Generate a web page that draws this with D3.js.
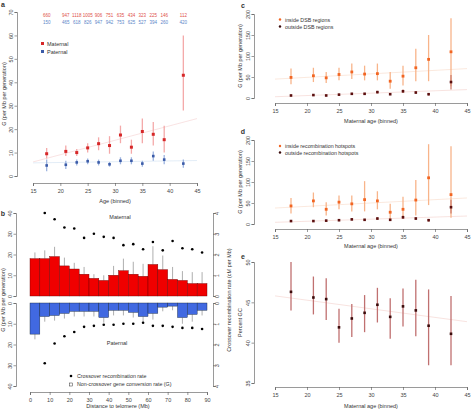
<!DOCTYPE html><html><head><meta charset="utf-8">
<script src="https://d3js.org/d3.v7.min.js"></script>
<style>body{margin:0;background:#fff}text{font-family:"Liberation Sans",Arial,sans-serif}</style></head><body>
<svg id="s" width="474" height="413"></svg>
<script>
const ages=[17.5,21,23,25,27,29,31,33,35,37,39,42.5];
const matG=[9.5,10.5,10,12,13.8,13,17.5,12.3,19,17.8,15.5,43];
const matLo=[7.5,8.5,8.5,10,11,9.5,14,9.5,14,13,10,28];
const matHi=[12,13,11.5,14,16.5,17,21.5,15.5,24.5,23,21.5,60];
const patG=[4.5,4.8,5.8,6.3,5.8,5,6.5,6.5,5.3,8.5,7,5.3];
const patLo=[2,3,4.5,5,4.5,4,5,5,4,6.5,5,3.5];
const patHi=[7,6.5,7,7.5,7,6,8,8,6.5,10.5,9,7];
const matN=[660,947,1118,1005,906,751,635,434,323,225,146,112];
const patN=[150,465,618,826,947,942,753,625,527,394,260,420];
const telBins=d3.range(0,90,5);
const telMat=[18,18,19,14.5,13,10.5,8.5,7.5,10,12.2,10.5,9.5,15.2,12.7,8,7.5,6,6];
const telMatHi=[21,22,23.7,18.5,16,14,10.5,10,14.5,18,16.5,15.5,24,19.5,14,12,11.5,11.5];
const telPat=[15,6.5,6,5,4,4,4,7,3.5,3.5,4.5,6.5,5,2,1.5,7,5.5,3.5];
const telPatHi=[17.5,9,8.5,7.5,6.5,6.5,6.5,9.5,6,6,7,9.5,8,4,3.5,10,9,6];
const coMat=[null,4.0,3.7,3.3,3.25,2.8,3.0,2.85,2.8,2.45,2.5,2.25,2.6,2.2,2.65,2.3,2.25,2.1];
const coPat=[null,2.9,1.95,1.6,1.4,1.15,1.1,1.05,1.05,1.0,1.0,0.95,1.1,1.1,1.15,1.2,1.2,1.25];
const dsbIn=[49,53,48,56,62,57,58,40,52,72,92,110];
const dsbInLo=[33,38,36,42,45,42,42,22,30,40,40,28];
const dsbInHi=[70,72,62,72,82,77,82,62,77,117,150,190];
const dsbOut=[6,7,6,8,10,10,14,9,16,13,9,38];
const dsbOutLo=[4,5,4,6,8,8,11,7,12,10,6,20];
const dsbOutHi=[8,9,8,10,12,12,17,11,20,16,12,55];
const hsIn=[43,55,35,52,48,58,55,28,35,57,110,70];
const hsInLo=[25,40,20,35,30,30,35,12,15,20,45,15];
const hsInHi=[62,75,52,68,68,102,78,48,65,105,190,185];
const hsOut=[7,7,8,9,11,10,13,10,16,13,9,40];
const hsOutLo=[5,5,6,7,9,8,10,8,12,10,6,25];
const hsOutHi=[9,9,10,11,13,12,16,12,20,16,12,58];
const gc=[46.3,45.6,45.4,41.9,43,43.7,44.7,43.2,44.5,44,42.1,41.1];
const gcLo=[44,43.5,42.8,40,40.7,41.3,42.5,40.5,42,40.8,37.2,37.2];
const gcHi=[50,48.2,48,44.2,44.8,45.9,46.8,45.5,46.7,47.8,46.6,45.8];

const svg=d3.select("#s");
const grey="#555";
function axStyle(g){g.selectAll("path,line").attr("stroke",grey).attr("stroke-width",0.6);g.selectAll("text").attr("fill","#444").attr("font-size",5.5);}
function txt(x,y,t,o={}){const e=svg.append("text").attr("x",x).attr("y",y).text(t).attr("font-size",o.fs||5.5).attr("fill",o.fill||"#333").attr("text-anchor",o.anchor||"middle");if(o.rot)e.attr("transform",`rotate(-90,${x},${y})`);if(o.bold)e.attr("font-weight","bold");return e;}
function rotTicks(g,left){g.selectAll(".tick text").attr("transform","rotate(-90)").attr("x",0).attr("y",left?-4:6).attr("dy",0).attr("text-anchor","middle");}
function ageAxes(x,y,axY,axX,yTicks,xLabelY,title,ylab,ylabX){
  const gx=svg.append("g").attr("transform",`translate(0,${axY})`).call(d3.axisBottom(x).tickValues([15,20,25,30,35,40,45]).tickSize(3));axStyle(gx);
  const gy=svg.append("g").attr("transform",`translate(${axX},0)`).call(d3.axisLeft(y).tickValues(yTicks).tickSize(2.5));axStyle(gy);rotTicks(gy,true);
  txt((x(15)+x(45))/2,xLabelY,title);
  txt(ylabX,(y(yTicks[0])+y(yTicks[yTicks.length-1]))/2,ylab,{rot:1});
}
function pts(x,y,v,lo,hi,col,ecol,r){
  ages.forEach((a,i)=>{svg.append("line").attr("x1",x(a)).attr("x2",x(a)).attr("y1",y(lo[i])).attr("y2",y(hi[i])).attr("stroke",ecol).attr("stroke-width",1.3);
  svg.append("rect").attr("x",x(a)-r).attr("y",y(v[i])-r).attr("width",2*r).attr("height",2*r).attr("fill",col);});
}
function trend(x,y,a,b,col){svg.append("line").attr("x1",x(15)).attr("x2",x(45)).attr("y1",y(a)).attr("y2",y(b)).attr("stroke",col).attr("stroke-width",0.8);}

// Panel a
{const x=d3.scaleLinear([15,45],[33,197]),y=d3.scaleLinear([0,70],[176,12]);
ageAxes(x,y,183,17,[0,10,20,30,40,50,60,70],203,"Age (binned)","G (per Mb per generation)",6);
trend(x,y,6,24.5,"#f8dcdc");trend(x,y,5.6,6.6,"#dce8f5");
pts(x,y,matG,matLo,matHi,"#d62728","#f4a9a9",1.5);
pts(x,y,patG,patLo,patHi,"#3b5ba8","#9db4e0",1.3);
ages.forEach((a,i)=>{txt(x(a),17,matN[i],{fs:4.5,fill:"#e0504a"});txt(x(a),24,patN[i],{fs:4.5,fill:"#5b86c8"});});
svg.append("rect").attr("x",41).attr("y",42).attr("width",3).attr("height",3).attr("fill","#d62728");
svg.append("rect").attr("x",41).attr("y",50).attr("width",3).attr("height",3).attr("fill","#3b5ba8");
txt(47,45.5,"Maternal",{anchor:"start",fs:5.5});txt(47,53.5,"Paternal",{anchor:"start",fs:5.5});
txt(3,7,"a",{bold:1,fs:7});}

// Panel b
{const x=d3.scaleLinear([0,90],[30,207]);
const yT=d3.scaleLinear([0,40],[296,213]),yB=d3.scaleLinear([0,40],[303,386]);
const bw=x(5)-x(0);
telBins.forEach((b,i)=>{
 svg.append("line").attr("x1",x(b+2.5)).attr("x2",x(b+2.5)).attr("y1",yT(telMat[i])).attr("y2",yT(telMatHi[i])).attr("stroke","#999").attr("stroke-width",0.8);
 svg.append("rect").attr("x",x(b)).attr("y",yT(telMat[i])).attr("width",bw).attr("height",yT(0)-yT(telMat[i])).attr("fill","#f00000").attr("stroke","#600").attr("stroke-width",0.4);
 svg.append("line").attr("x1",x(b+2.5)).attr("x2",x(b+2.5)).attr("y1",yB(telPat[i])).attr("y2",yB(telPatHi[i])).attr("stroke","#999").attr("stroke-width",0.8);
 svg.append("rect").attr("x",x(b)).attr("y",yB(0)).attr("width",bw).attr("height",yB(telPat[i])-yB(0)).attr("fill","#4169e1").attr("stroke","#123").attr("stroke-width",0.4);
 if(coMat[i]!=null)svg.append("circle").attr("cx",x(b+2.5)).attr("cy",yT(coMat[i]*10)).attr("r",1.3).attr("fill","#000");
 if(coPat[i]!=null)svg.append("circle").attr("cx",x(b+2.5)).attr("cy",yB(coPat[i]*10)).attr("r",1.3).attr("fill","#000");
});
const gx=svg.append("g").attr("transform","translate(0,392)").call(d3.axisBottom(x).tickValues(d3.range(0,91,10)).tickSize(3));axStyle(gx);
function vy(sc,ax,left,labF){const g=svg.append("g").attr("transform",`translate(${ax},0)`).call((left?d3.axisLeft(sc):d3.axisRight(sc)).tickValues([0,10,20,30,40]).tickSize(2.5).tickFormat(labF));axStyle(g);rotTicks(g,left);}
vy(yT,16,true,d=>d);vy(yB,16,true,d=>d);
vy(yT,213,false,d=>d/10);vy(yB,213,false,d=>d/10);
txt(118,408,"Distance to telomere (Mb)");
txt(5,300,"G (per Mb per generation)",{rot:1});
txt(231,300,"Crossover recombination rate (cM per Mb)",{rot:1});
txt(120,219,"Maternal");txt(117,345,"Paternal");
svg.append("circle").attr("cx",71).attr("cy",376).attr("r",1.3).attr("fill","#000");
svg.append("rect").attr("x",69.5).attr("y",383).attr("width",3).attr("height",3).attr("fill","none").attr("stroke","#333").attr("stroke-width",0.5);
txt(77,378,"Crossover recombination rate",{anchor:"start",fs:5.3});
txt(77,386,"Non-crossover gene conversion rate (G)",{anchor:"start",fs:5.3});
txt(3,216,"b",{bold:1,fs:7});}

// Panel c
{const x=d3.scaleLinear([15,45],[275,467]),y=d3.scaleLinear([0,200],[98,14]);
ageAxes(x,y,103,254,[0,50,100,150,200],123,"Maternal age (binned)","G (per Mb per generation)",242);
trend(x,y,45,70,"#fae3d6");trend(x,y,3,20,"#f6dcd8");
pts(x,y,dsbIn,dsbInLo,dsbInHi,"#f26522","#f8b48a",1.4);
pts(x,y,dsbOut,dsbOutLo,dsbOutHi,"#5a0f0f","#d08070",1.3);
svg.append("circle").attr("cx",280).attr("cy",19.5).attr("r",1.2).attr("fill","#f26522");
svg.append("circle").attr("cx",280).attr("cy",26.5).attr("r",1.2).attr("fill","#3a0a0a");
txt(285,21.5,"inside DSB regions",{anchor:"start",fs:5.3});txt(285,28.5,"outside DSB regions",{anchor:"start",fs:5.3});
txt(243,8,"c",{bold:1,fs:7});}

// Panel d
{const x=d3.scaleLinear([15,45],[275,467]),y=d3.scaleLinear([0,200],[224,140]);
ageAxes(x,y,229,254,[0,50,100,150,200],248,"Maternal age (binned)","G (per Mb per generation)",242);
trend(x,y,38,62,"#fae3d6");trend(x,y,4,19,"#f6dcd8");
pts(x,y,hsIn,hsInLo,hsInHi,"#f26522","#f8b48a",1.4);
pts(x,y,hsOut,hsOutLo,hsOutHi,"#5a0f0f","#d08070",1.3);
svg.append("circle").attr("cx",280).attr("cy",146).attr("r",1.2).attr("fill","#f26522");
svg.append("circle").attr("cx",280).attr("cy",152.5).attr("r",1.2).attr("fill","#3a0a0a");
txt(285,148,"inside recombination hotspots",{anchor:"start",fs:5.3});txt(285,154.5,"outside recombination hotspots",{anchor:"start",fs:5.3});
txt(243,134,"d",{bold:1,fs:7});}

// Panel e
{const x=d3.scaleLinear([15,45],[275,467]),y=d3.scaleLinear([35,50],[383,262]);
ageAxes(x,y,387,254,[35,40,45,50],408,"Maternal age (binned)","Percent GC",242);
trend(x,y,45.8,42.6,"#f6dcd8");
pts(x,y,gc,gcLo,gcHi,"#3a0a0a","#c07070",1.3);
txt(243,259,"e",{bold:1,fs:7});}
</script></body></html>
